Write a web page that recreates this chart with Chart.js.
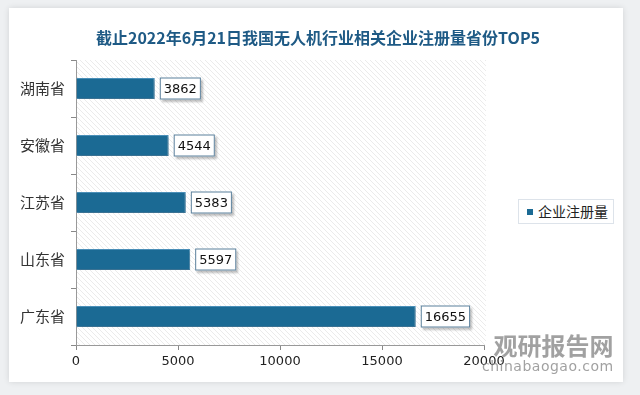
<!DOCTYPE html>
<html>
<head>
<meta charset="utf-8">
<script src="https://cdn.jsdelivr.net/npm/chart.js@4"></script>
<style>
  html, body { margin: 0; padding: 0; background: #eef0f2; }
  body { width: 640px; height: 395px; position: relative; overflow: hidden; font-family: 'Noto Sans CJK SC', sans-serif; }
  .card { position: absolute; left: 9px; top: 8px; width: 614px; height: 374px; background: #fff;
          box-shadow: 0 0 6px rgba(0,0,0,0.12); }
  #chart { position: absolute; left: 0; top: 0; }
  .title { position: absolute; left: 0; width: 636px; top: 25px; text-align: center;
           font: bold 16px 'Noto Sans CJK SC', serif; color: #1e5a85; }
  .legend { position: absolute; left: 518px; top: 199px; width: 96px; height: 25px; box-sizing: border-box;
            border: 1px solid #dde3ea; background: #fff; font-size: 14px; color: #222; line-height: 23px; }
  .legend i { display: inline-block; width: 6px; height: 6px; background: #1b6a94; margin: 0 5px 2px 8px; vertical-align: middle; }
  .wm { position: absolute; left: 482px; top: 332px; color: rgba(130,130,130,0.75); text-align: right; }
  .wm b { display: block; font-size: 24px; letter-spacing: 0px; line-height: 26px; }
  .wm span { display: block; font: 14px 'DejaVu Sans', sans-serif; letter-spacing: 0.5px; line-height: 16px; }
</style>
</head>
<body>
<div class="card"></div>
<canvas id="chart" width="640" height="395"></canvas>
<div class="title">截止2022年6月21日我国无人机行业相关企业注册量省份TOP5</div>
<div class="legend"><i></i>企业注册量</div>
<div class="wm"><b>观研报告网</b><span>chinabaogao.com</span></div>
<script>
// 数据
const provinces = ['湖南省', '安徽省', '江苏省', '山东省', '广东省'];
const registrations = [3862, 4544, 5383, 5597, 16655];
const xTicks = [0, 5000, 10000, 15000, 20000];

const BAR_COLOR = '#1b6a94';

// 斜线底纹
const makeHatch = (ctx) => {
    const c = document.createElement('canvas');
    c.width = 5; c.height = 5;
    const p = c.getContext('2d');
    p.fillStyle = '#ffffff';
    p.fillRect(0, 0, 5, 5);
    p.strokeStyle = '#ebebeb';
    p.lineWidth = 1;
    p.beginPath();
    p.moveTo(-1, -1); p.lineTo(6, 6);
    p.moveTo(-1, 4); p.lineTo(1, 6);
    p.moveTo(4, -1); p.lineTo(6, 1);
    p.stroke();
    return ctx.createPattern(c, 'repeat');
};

const hatchBackground = {
    id: 'hatchBackground',
    beforeDraw(chart) {
        const { ctx, chartArea: a } = chart;
        ctx.save();
        ctx.fillStyle = makeHatch(ctx);
        ctx.fillRect(a.left, a.top, a.right - a.left + 2, a.bottom - a.top);
        ctx.restore();
    },
    beforeDatasetsDraw(chart) {
        const ctx = chart.ctx;
        ctx.save();
        ctx.shadowColor = 'rgba(0,0,0,0.2)';
        ctx.shadowOffsetX = 1;
        ctx.shadowOffsetY = 2;
        ctx.shadowBlur = 2;
    },
    afterDatasetsDraw(chart) {
        chart.ctx.restore();
    }
};

// 数值标签（白色方框）
const valueBoxes = {
    id: 'valueBoxes',
    afterDatasetsDraw(chart) {
        const { ctx } = chart;
        const meta = chart.getDatasetMeta(0);
        ctx.save();
        ctx.font = '13px "DejaVu Sans", sans-serif';
        ctx.textBaseline = 'middle';
        meta.data.forEach((bar, i) => {
            const text = String(registrations[i]);
            const w = ctx.measureText(text).width + 8;
            const h = 22;
            const x = bar.x + 5;
            const y = bar.y - h / 2;
            ctx.shadowColor = 'rgba(0,0,0,0.25)';
            ctx.shadowOffsetX = 2;
            ctx.shadowOffsetY = 2;
            ctx.shadowBlur = 2;
            ctx.fillStyle = '#fff';
            ctx.fillRect(x, y, w, h);
            ctx.shadowColor = 'transparent';
            ctx.strokeStyle = '#5b809c';
            ctx.lineWidth = 1;
            ctx.strokeRect(x + 0.5, y + 0.5, w - 1, h - 1);
            ctx.fillStyle = '#111';
            ctx.fillText(text, x + 4, bar.y + 1);
        });
        ctx.restore();
    }
};

new Chart(document.getElementById('chart'), {
    type: 'bar',
    data: {
        labels: provinces,
        datasets: [{
            label: '企业注册量',
            data: registrations,
            backgroundColor: BAR_COLOR,
            borderColor: '#4a8fb8',
            borderWidth: 1,
            categoryPercentage: 1,
            barPercentage: 0.37
        }]
    },
    options: {
        indexAxis: 'y',
        responsive: false,
        animation: false,
        layout: { padding: { left: 0, top: 60, right: 156, bottom: 20 } },
        plugins: { legend: { display: false }, tooltip: { enabled: false }, title: { display: false } },
        scales: {
            x: {
                min: 0, max: 20000,
                afterBuildTicks: (s) => { s.ticks = xTicks.map(v => ({ value: v })); },
                afterFit: (s) => { s.height = 30; },
                grid: { drawOnChartArea: false, tickLength: 5, color: '#888' },
                border: { color: '#999', width: 1 },
                ticks: { color: '#222', font: { size: 13, family: "'DejaVu Sans', sans-serif" }, padding: 4, maxRotation: 0,
                         callback: (v) => String(v) }
            },
            y: {
                afterFit: (s) => { s.width = 76; },
                grid: { drawOnChartArea: false, offset: true, tickLength: 5, color: '#888' },
                border: { color: '#999', width: 1 },
                ticks: { color: '#333', font: { size: 15, family: "'Noto Sans CJK SC', sans-serif" }, padding: 6 }
            }
        }
    },
    plugins: [hatchBackground, valueBoxes]
});
</script>
</body>
</html>
